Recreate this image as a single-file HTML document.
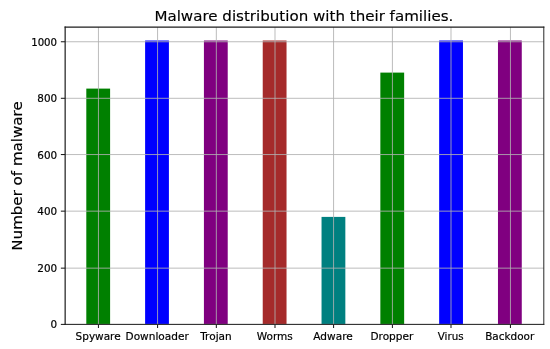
<!DOCTYPE html>
<html lang="en">
<head>
<meta charset="utf-8">
<title>Malware distribution with their families.</title>
<style>
html,body{margin:0;padding:0;background:#fff;}
body{width:550px;height:349px;overflow:hidden;}
svg{display:block;}
text{font-family:"DejaVu Sans","Liberation Sans",sans-serif;fill:#000;stroke:#000;stroke-width:0.15px;}
.tk{font-size:10px;stroke-width:0.18px;}
.big{font-size:14.6px;}
</style>
</head>
<body>
<svg width="550" height="349" viewBox="0 0 550 349">
<rect x="0" y="0" width="550" height="349" fill="#ffffff"/>
<rect x="86.30" y="88.60" width="23.8" height="235.80" fill="#008000"/>
<rect x="145.11" y="40.50" width="23.8" height="283.90" fill="#0000ff"/>
<rect x="203.92" y="40.50" width="23.8" height="283.90" fill="#800080"/>
<rect x="262.73" y="40.50" width="23.8" height="283.90" fill="#a52a2a"/>
<rect x="321.54" y="216.90" width="23.8" height="107.50" fill="#008080"/>
<rect x="380.35" y="72.60" width="23.8" height="251.80" fill="#008000"/>
<rect x="439.16" y="40.50" width="23.8" height="283.90" fill="#0000ff"/>
<rect x="497.97" y="40.50" width="23.8" height="283.90" fill="#800080"/>
<g stroke="#b0b0b0" stroke-width="0.85" fill="none">
<line x1="98.45" y1="27.12" x2="98.45" y2="324.4"/>
<line x1="157.57" y1="27.12" x2="157.57" y2="324.4"/>
<line x1="216.34" y1="27.12" x2="216.34" y2="324.4"/>
<line x1="275.00" y1="27.12" x2="275.00" y2="324.4"/>
<line x1="333.57" y1="27.12" x2="333.57" y2="324.4"/>
<line x1="392.42" y1="27.12" x2="392.42" y2="324.4"/>
<line x1="451.00" y1="27.12" x2="451.00" y2="324.4"/>
<line x1="510.45" y1="27.12" x2="510.45" y2="324.4"/>
<line x1="65.15" y1="324.40" x2="543.8" y2="324.40"/>
<line x1="65.15" y1="268.15" x2="543.8" y2="268.15"/>
<line x1="65.15" y1="211.15" x2="543.8" y2="211.15"/>
<line x1="65.15" y1="154.55" x2="543.8" y2="154.55"/>
<line x1="65.15" y1="98.30" x2="543.8" y2="98.30"/>
<line x1="65.15" y1="41.75" x2="543.8" y2="41.75"/>
</g>
<g stroke="#1c1c1c" stroke-width="1.05" fill="none">
<line x1="98.45" y1="324.4" x2="98.45" y2="328.10"/>
<line x1="157.57" y1="324.4" x2="157.57" y2="328.10"/>
<line x1="216.34" y1="324.4" x2="216.34" y2="328.10"/>
<line x1="275.00" y1="324.4" x2="275.00" y2="328.10"/>
<line x1="333.57" y1="324.4" x2="333.57" y2="328.10"/>
<line x1="392.42" y1="324.4" x2="392.42" y2="328.10"/>
<line x1="451.00" y1="324.4" x2="451.00" y2="328.10"/>
<line x1="510.45" y1="324.4" x2="510.45" y2="328.10"/>
<line x1="60.85" y1="324.40" x2="65.15" y2="324.40"/>
<line x1="60.85" y1="268.15" x2="65.15" y2="268.15"/>
<line x1="60.85" y1="211.15" x2="65.15" y2="211.15"/>
<line x1="60.85" y1="154.55" x2="65.15" y2="154.55"/>
<line x1="60.85" y1="98.30" x2="65.15" y2="98.30"/>
<line x1="60.85" y1="41.75" x2="65.15" y2="41.75"/>
<line x1="65.15" y1="27.12" x2="65.15" y2="324.4" stroke-width="1.2" stroke-linecap="square"/>
<line x1="543.8" y1="27.12" x2="543.8" y2="324.4" stroke-width="0.95" stroke-linecap="square"/>
<line x1="65.15" y1="27.12" x2="543.8" y2="27.12" stroke-width="1.15" stroke-linecap="square"/>
<line x1="65.15" y1="324.4" x2="543.8" y2="324.4" stroke-width="0.95" stroke-linecap="square"/>
</g>
<text class="tk" transform="translate(98.10 340.35) scale(1.05 1)" text-anchor="middle">Spyware</text>
<text class="tk" transform="translate(157.13 340.35) scale(1.055 1)" text-anchor="middle">Downloader</text>
<text class="tk" transform="translate(215.96 340.35) scale(1.055 1)" text-anchor="middle">Trojan</text>
<text class="tk" transform="translate(274.79 340.35) scale(1.055 1)" text-anchor="middle">Worms</text>
<text class="tk" transform="translate(333.02 340.35) scale(1.055 1)" text-anchor="middle">Adware</text>
<text class="tk" transform="translate(391.85 340.35) scale(1.055 1)" text-anchor="middle">Dropper</text>
<text class="tk" transform="translate(450.68 340.35) scale(1.03 1)" text-anchor="middle">Virus</text>
<text class="tk" transform="translate(509.71 340.35) scale(1.045 1)" text-anchor="middle">Backdoor</text>
<text class="tk" transform="translate(57.1 327.65) scale(1.04 1)" text-anchor="end">0</text>
<text class="tk" transform="translate(57.1 271.97) scale(1.04 1)" text-anchor="end">200</text>
<text class="tk" transform="translate(57.1 215.04) scale(1.04 1)" text-anchor="end">400</text>
<text class="tk" transform="translate(57.1 159.10) scale(1.04 1)" text-anchor="end">600</text>
<text class="tk" transform="translate(57.1 101.73) scale(1.04 1)" text-anchor="end">800</text>
<text class="tk" transform="translate(57.1 45.75) scale(1.02 1)" text-anchor="end">1000</text>
<text class="big" transform="translate(303.87 20.8) scale(1.033 1)" text-anchor="middle">Malware distribution with their families.</text>
<text class="big" transform="translate(21.8 176.01) rotate(-90) scale(1.032 1)" text-anchor="middle">Number of malware</text>
</svg>
</body>
</html>
